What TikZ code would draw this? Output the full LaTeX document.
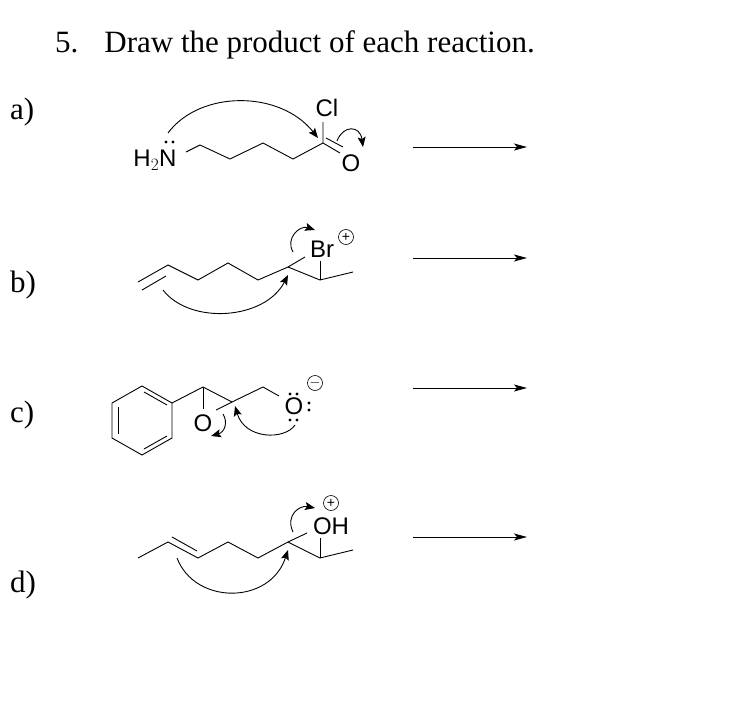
\documentclass[tikz,border=0pt]{standalone}
\usepackage{fontspec}
\setmainfont{Liberation Serif}
\newfontfamily\chem{Liberation Sans}
\usetikzlibrary{arrows.meta}
\tikzset{bond/.style={line width=0.9pt},
 rxn/.style={line width=0.9pt,-{Stealth[length=13pt,width=7pt,inset=3pt]}},
 mech/.style={line width=0.9pt,-{Stealth[length=10pt,width=8pt,inset=2pt]}},
 atom/.style={font=\chem\fontsize{24}{24}\selectfont,inner sep=0pt},
 lbl/.style={font=\fontsize{31}{31}\selectfont,anchor=west,inner sep=0pt},
 chg/.style={circle,draw,line width=0.6pt,minimum size=15pt,inner sep=0pt,font=\chem\fontsize{14}{14}\selectfont},
 dot/.style={circle,fill,inner sep=0pt,minimum size=3.2pt}}
\begin{document}
\begin{tikzpicture}[x=1pt,y=-1pt]
\useasboundingbox (0,0) rectangle (745,720);
\node[lbl] (title) at (55,45) {5.\hspace{26pt}Draw the product of each reaction.};
\node[lbl] (la) at (10,112) {a)};
\node[lbl] (lb) at (10,285) {b)};
\node[lbl] (lc) at (10,415) {c)};
\node[lbl] (ld) at (10,585) {d)};
% reaction arrows
\coordinate (a1) at (413,147); \coordinate (a2) at (527,147);
\coordinate (b1) at (413,258); \coordinate (b2) at (527,258);
\coordinate (c1) at (413,388); \coordinate (c2) at (527,388);
\coordinate (d1) at (413,537); \coordinate (d2) at (527,537);
\draw[rxn] (a1)--(a2); \draw[rxn] (b1)--(b2); \draw[rxn] (c1)--(c2); \draw[rxn] (d1)--(d2);
% a)
\node[atom] (N) at (155,160) {H$_2$N};
\node[dot] (ld1) at (166,142) {}; \node[dot] (ld2) at (173,142) {};
\node[atom] (Cl) at (327,108) {Cl};
\node[atom] (Oa) at (351,163) {O};
\coordinate (p1) at (186,152); \coordinate (p2) at (200,145); \coordinate (p3) at (230,159);
\coordinate (p4) at (263,143); \coordinate (p5) at (293,159); \coordinate (Ca) at (323,143);
\draw[bond] (p1)--(p2)--(p3)--(p4)--(p5)--(Ca)--(323,122);
\draw[bond] (Ca)--(340,153);
\draw[bond] (326,138)--(343,147);
\draw[mech] (168,133) .. controls (200,90) and (280,90) .. (318,138);
\draw[mech] (337,141) .. controls (343,125) and (360,125) .. (363,147);
% b)
\coordinate (q1) at (138,282); \coordinate (q2) at (168,265); \coordinate (q3) at (198,280);
\coordinate (q4) at (228,263); \coordinate (q5) at (258,280); \coordinate (Cb) at (288,267);
\coordinate (q7) at (320,280); \coordinate (q8) at (353,272); \coordinate (q9) at (320,261);
\node[atom] (Br) at (322,249) {Br};
\node[chg] (pb) at (346,237) {+};
\draw[bond] (q1)--(q2)--(q3)--(q4)--(q5)--(Cb)--(q7)--(q8);
\draw[bond] (142,290)--(166,276);
\draw[bond] (q7)--(q9);
\draw[bond] (Cb)--(305,257);
\draw[mech] (163,290) .. controls (190,325) and (265,320) .. (288,275);
\draw[mech] (293,252) .. controls (285,238) and (300,225) .. (315,230);
% c)
\coordinate (h1) at (142,386); \coordinate (h2) at (172,403); \coordinate (h3) at (172,438);
\coordinate (h4) at (142,455); \coordinate (h5) at (112,438); \coordinate (h6) at (112,403);
\draw[bond] (h1)--(h2)--(h3)--(h4)--(h5)--(h6)--cycle;
\draw[bond] (144,392)--(167,405);
\draw[bond] (118,407)--(118,434);
\draw[bond] (144,449)--(167,436);
\coordinate (E1) at (203,387); \coordinate (E2) at (232,402);
\coordinate (r1) at (263,387); \coordinate (r2) at (279,396);
\node[atom] (Oe) at (203,423) {O};
\node[atom] (Om) at (294,406) {O};
\node[chg] (mc) at (315,383) {$-$};
\draw[bond] (h2)--(E1)--(E2)--(r1)--(r2);
\draw[bond] (E1)--(203,409);
\draw[bond] (E2)--(216,410);
\node[dot] at (290,394) {}; \node[dot] at (297,394) {};
\node[dot] at (309,403) {}; \node[dot] at (309,410) {};
\node[dot] at (290,420) {}; \node[dot] at (297,420) {};
\draw[mech] (295,425) .. controls (285,440) and (245,440) .. (235,406);
\draw[mech] (223,414) .. controls (228,422) and (225,432) .. (211,436);
% d)
\coordinate (s1) at (138,558); \coordinate (s2) at (168,542); \coordinate (s3) at (198,558);
\coordinate (s4) at (228,542); \coordinate (s5) at (258,558); \coordinate (Cd) at (288,542);
\coordinate (s7) at (320,558); \coordinate (s8) at (353,550); \coordinate (s9) at (320,538);
\node[atom] (OH) at (331,526) {OH};
\node[chg] (pd) at (331,503) {+};
\draw[bond] (s1)--(s2)--(s3)--(s4)--(s5)--(Cd)--(s7)--(s8);
\draw[bond] (172,537)--(197,551);
\draw[bond] (s7)--(s9);
\draw[bond] (Cd)--(307,533);
\draw[mech] (177,558) .. controls (195,605) and (270,605) .. (288,550);
\draw[mech] (293,532) .. controls (285,515) and (300,505) .. (315,508);
\end{tikzpicture}
\end{document}
